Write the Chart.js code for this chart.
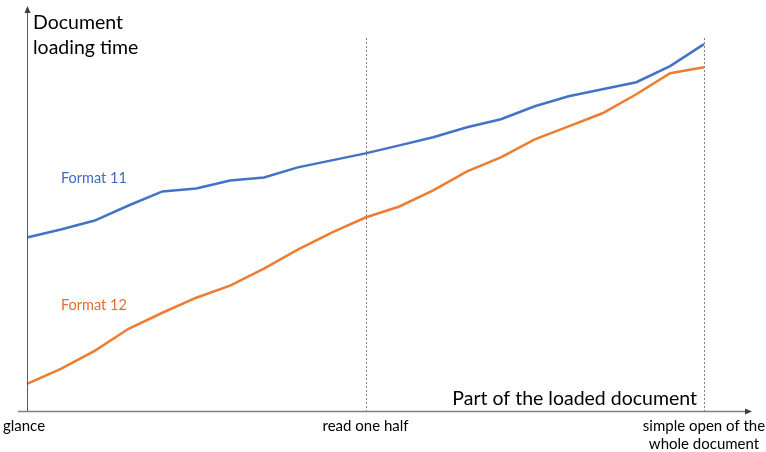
<!DOCTYPE html>
<html>
<head>
<meta charset="utf-8">
<script src="https://cdn.jsdelivr.net/npm/chart.js@4/dist/chart.umd.min.js"></script>
<style>
  html, body { margin: 0; padding: 0; background: #fff; }
  #box { width: 766px; height: 452px; }
</style>
</head>
<body>
<div id="box"><canvas id="myChart"></canvas></div>
<script>
// 21 steps along the loaded part of the document
const steps = ["0","1","2","3","4","5","6","7","8","9","10","11","12","13","14","15","16","17","18","19","20"];
const tickLabels = { 0: ["glance"], 10: ["read one half"], 20: ["simple open of the", "whole document"] };
const markerSteps = [10, 20];

// loading time, arbitrary units
const format11 = [173, 181, 190, 205, 219, 222, 230, 233, 243, 250, 257, 265, 273, 283, 291, 304, 314, 321, 328, 344, 366];
const format12 = [27, 42, 60, 82, 98, 113, 125, 142, 161, 178, 193, 204, 220, 239, 253, 271, 284, 297, 316, 337, 343];

const seriesNames = ["Format 11", "Format 12"];
const yTop = 403;
const markerTop = 372;

const blue = "#4472C4";
const orange = "#ED7D31";
const fontFam = "Lato, 'Open Sans', sans-serif";

const decor = {
    id: "decor",
    beforeDatasetsDraw(chart) {
        const c = chart.ctx;
        const x = chart.scales.x, y = chart.scales.y;
        const a = chart.chartArea;
        c.save();
        // dotted markers
        c.strokeStyle = "#7f7f7f";
        c.lineWidth = 1;
        c.setLineDash([2, 2]);
        markerSteps.forEach(function (i) {
            let px = Math.round(x.getPixelForValue(i)) + 0.5;
            c.beginPath();
            c.moveTo(px, y.getPixelForValue(markerTop));
            c.lineTo(px, a.bottom);
            c.stroke();
        });
        c.restore();
    },
    afterDraw(chart) {
        const c = chart.ctx;
        const x = chart.scales.x, y = chart.scales.y;
        const a = chart.chartArea;
        c.save();
        // axes with arrows
        c.strokeStyle = "#7f7f7f";
        c.fillStyle = "#404040";
        c.lineWidth = 1.5;
        c.beginPath();
        c.moveTo(18, a.bottom + 0.5);
        c.lineTo(748, a.bottom + 0.5);
        c.stroke();
        c.beginPath();
        c.moveTo(752, a.bottom + 0.5);
        c.lineTo(745, a.bottom - 2.5);
        c.lineTo(745, a.bottom + 3.5);
        c.closePath();
        c.fill();
        c.strokeStyle = "#595959";
        c.lineWidth = 1;
        let yx = Math.round(a.left) + 0.5;
        c.beginPath();
        c.moveTo(yx, a.bottom);
        c.lineTo(yx, a.top + 4);
        c.stroke();
        c.beginPath();
        c.moveTo(yx, a.top - 1);
        c.lineTo(yx - 3, a.top + 6);
        c.lineTo(yx + 3, a.top + 6);
        c.closePath();
        c.fill();

        // tick labels
        c.fillStyle = "#000";
        c.font = "15px " + fontFam;
        c.textAlign = "center";
        c.textBaseline = "alphabetic";
        for (let key in tickLabels) {
            let px = x.getPixelForValue(Number(key));
            if (key == 0) px = 24;
            tickLabels[key].forEach(function (line, j) {
                c.fillText(line, px, a.bottom + 20 + j * 18);
            });
        }

        // axis titles
        c.textAlign = "left";
        c.font = "19.5px " + fontFam;
        c.fillText("Document", 33, 29);
        c.fillText("loading time", 33, 54);
        c.textAlign = "right";
        c.fillText("Part of the loaded document", 697, 405);

        // series labels
        c.textAlign = "left";
        c.font = "14.5px " + fontFam;
        c.fillStyle = "#3F6BBF";
        c.fillText(seriesNames[0], 61, 183);
        c.fillStyle = "#E0702F";
        c.fillText(seriesNames[1], 61, 310);
        c.restore();
    }
};

let ctx = document.getElementById("myChart").getContext("2d");
let myChart = new Chart(ctx, {
    type: "line",
    data: {
        labels: steps,
        datasets: [
            { label: seriesNames[0], data: format11, borderColor: blue, borderWidth: 2.5, pointRadius: 0, tension: 0 },
            { label: seriesNames[1], data: format12, borderColor: orange, borderWidth: 2.5, pointRadius: 0, tension: 0 }
        ]
    },
    options: {
        responsive: true,
        maintainAspectRatio: false,
        animation: false,
        layout: { padding: { left: 27, right: 62, top: 7, bottom: 41 } },
        plugins: { legend: { display: false }, tooltip: { enabled: false } },
        scales: {
            x: { type: "category", display: false, offset: false },
            y: { display: false, min: 0, max: yTop }
        }
    },
    plugins: [decor]
});
</script>
</body>
</html>
